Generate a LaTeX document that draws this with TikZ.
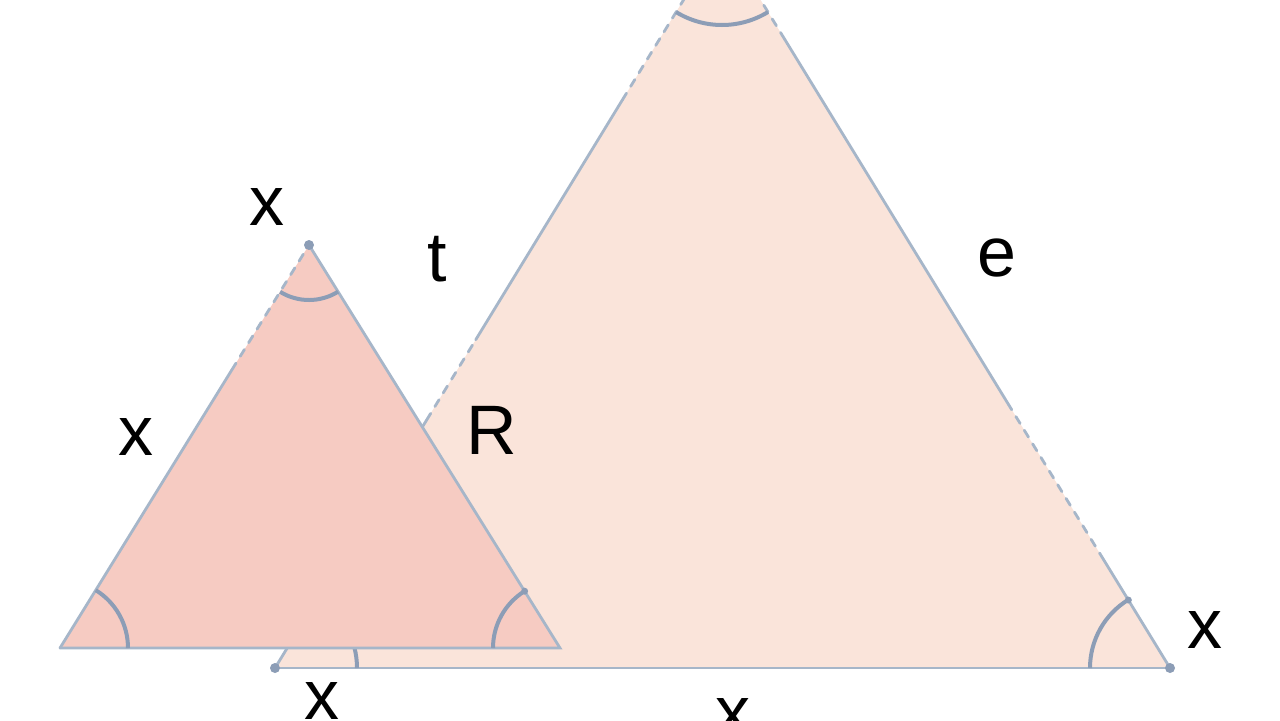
\documentclass[tikz,border=0pt]{standalone}
\usepackage{fontspec}
\setmainfont{Liberation Sans}
\usetikzlibrary{calc,angles}
\definecolor{bigfill}{HTML}{FAE4DA}
\definecolor{smallfill}{HTML}{F6CBC2}
\definecolor{edgec}{HTML}{A6B6C9}
\definecolor{arcc}{HTML}{8C9DB6}
\tikzset{
  edge/.style={draw=edgec, line width=1.4pt, line cap=round},
  dashedge/.style={edge, dash pattern=on 4pt off 4pt},
  anglearc/.style={draw=arcc, line width=2pt},
  lbl/.style={font=\fontsize{35}{35}\selectfont, inner sep=0pt, text=black},
  vdot/.style={circle, fill=arcc, inner sep=0pt, minimum size=5pt},
}
\begin{document}
\begin{tikzpicture}[x=0.5pt, y=-0.5pt]
\useasboundingbox (0,0) rectangle (1280,720);
\fill[white] (0,0) rectangle (1280,720);
\clip (0,0) rectangle (1280,720);
% big triangle
\coordinate (A) at (275,668);
\coordinate (B) at (1170,668);
\coordinate (C) at (722,-63);
% small triangle
\coordinate (a) at (60,648);
\coordinate (b) at (560,648);
\coordinate (c) at (309,245);

\fill[bigfill] (A) -- (B) -- (C) -- cycle;
\draw[edge] (A) -- (B);
\draw[edge] (A) -- ($(A)!0.339!(C)$);
\draw[dashedge] ($(A)!0.339!(C)$) -- ($(A)!0.449!(C)$);
\draw[edge] ($(A)!0.449!(C)$) -- ($(A)!0.777!(C)$);
\draw[dashedge] ($(A)!0.777!(C)$) -- (C);
\draw[edge] (B) -- ($(B)!0.148!(C)$);
\draw[dashedge] ($(B)!0.148!(C)$) -- ($(B)!0.36!(C)$);
\draw[edge] ($(B)!0.36!(C)$) -- ($(B)!0.86!(C)$);
\draw[dashedge] ($(B)!0.86!(C)$) -- (C);
\pic[anglearc, angle radius=41pt] {angle = B--A--C};
\pic[anglearc, angle radius=40pt] {angle = C--B--A};
\pic[anglearc, angle radius=44pt] {angle = A--C--B};
\node[vdot] (dA) at (A) {};
\node[vdot] (dB) at (B) {};
\node[vdot, minimum size=3.5pt] (dBarc) at ($(B)!0.093!(C)$) {};

\fill[smallfill] (a) -- (b) -- (c) -- cycle;
\draw[edge] (a) -- (b) -- (c);
\draw[edge] (a) -- ($(a)!0.69!(c)$);
\draw[dashedge] ($(a)!0.69!(c)$) -- (c);
\pic[anglearc, angle radius=34pt] {angle = b--a--c};
\pic[anglearc, angle radius=33.5pt] {angle = c--b--a};
\pic[anglearc, angle radius=27.5pt] {angle = a--c--b};
\node[vdot] (dc) at (c) {};
\node[vdot, minimum size=3.5pt] (dbarc) at ($(b)!0.141!(c)$) {};

% labels
\node[lbl] (l1) at (267,207) {x};
\node[lbl] (l2) at (437,259) {t};
\node[lbl] (l3) at (997,258) {e};
\node[lbl] (l4) at (136,437) {x};
\node[lbl] (l5) at (492,430) {R};
\node[lbl] (l6) at (1205,630) {x};
\node[lbl] (l7) at (322,701) {x};
\node[lbl] (l8) at (733,717) {x};
\end{tikzpicture}
\end{document}
